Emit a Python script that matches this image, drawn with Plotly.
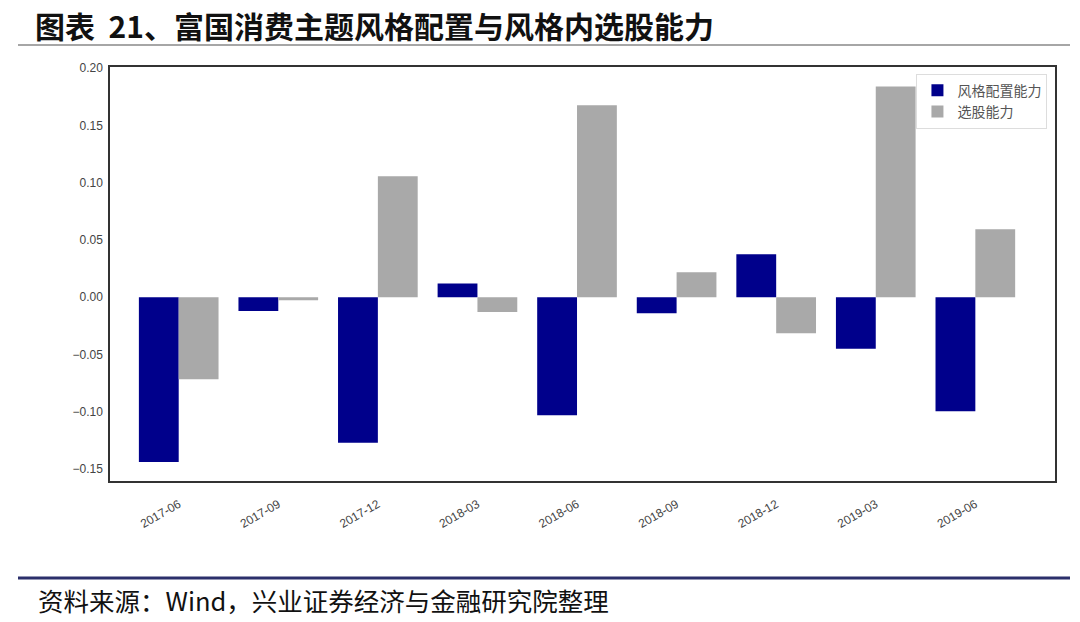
import plotly.graph_objects as go

categories = ["2017-06", "2017-09", "2017-12", "2018-03", "2018-06",
              "2018-09", "2018-12", "2019-03", "2019-06"]
style_alloc = [-0.144, -0.012, -0.127, 0.012, -0.103, -0.014, 0.0375, -0.045, -0.0995]
stock_pick = [-0.0716, -0.0026, 0.1056, -0.013, 0.1676, 0.0218, -0.0314, 0.184, 0.0594]
y_ticks = [-0.15, -0.10, -0.05, 0.00, 0.05, 0.10, 0.15, 0.20]
y_tick_labels = ["\u22120.15", "\u22120.10", "\u22120.05", "0.00", "0.05", "0.10", "0.15", "0.20"]

fig = go.Figure()
fig.add_trace(go.Bar(x=categories, y=style_alloc, name="风格配置能力",
                     marker=dict(color="#00008B", line=dict(width=0))))
fig.add_trace(go.Bar(x=categories, y=stock_pick, name="选股能力",
                     marker=dict(color="#A9A9A9", line=dict(width=0))))

fig.update_layout(
    width=1080, height=622,
    margin=dict(l=110, r=25, t=67, b=141),
    paper_bgcolor="white", plot_bgcolor="white",
    barmode="group", bargap=0.2, bargroupgap=0,
    font=dict(family="Liberation Sans, Arial", color="#444"),
    legend=dict(x=0.992, y=0.984, xanchor="right", yanchor="top",
                bgcolor="rgba(255,255,255,0.9)", bordercolor="#dddddd", borderwidth=1,
                font=dict(family="Noto Sans CJK SC", size=14, color="#555"),
                tracegroupgap=0, itemwidth=30),
    showlegend=True,
)
fig.update_xaxes(type="category", range=[-0.69, 8.8], showgrid=False,
                 tickangle=-30, tickfont=dict(size=12, color="#444"),
                 showline=True, linecolor="#333", linewidth=1.5, mirror=True,
                 ticks="outside", ticklen=10, tickcolor="rgba(0,0,0,0)")
fig.update_yaxes(range=[-0.1605, 0.201], showgrid=False, zeroline=False,
                 tickvals=y_ticks, ticktext=y_tick_labels,
                 tickfont=dict(size=12, color="#444"),
                 showline=True, linecolor="#333", linewidth=1.5, mirror=True,
                 ticks="outside", ticklen=3, tickcolor="rgba(0,0,0,0)")

# Title and footer
fig.add_annotation(text="<b>图表  21、富国消费主题风格配置与风格内选股能力</b>",
                   xref="paper", yref="paper", x=(33 - 110) / 945, y=1 + (67 - 25) / 414,
                   xanchor="left", yanchor="middle", showarrow=False,
                   font=dict(family="Noto Sans CJK SC", size=30, color="#111"))
fig.add_annotation(text="资料来源：Wind，兴业证券经济与金融研究院整理",
                   xref="paper", yref="paper", x=(36 - 110) / 945, y=-(599 - 481) / 414,
                   xanchor="left", yanchor="middle", showarrow=False,
                   font=dict(family="Noto Sans CJK SC", size=25.5, color="#111"))
fig.add_shape(type="line", xref="paper", yref="paper",
              x0=(18 - 110) / 945, x1=(1070 - 110) / 945, y0=1 + (67 - 45) / 414, y1=1 + (67 - 45) / 414,
              line=dict(color="#888", width=1.5))
fig.add_shape(type="line", xref="paper", yref="paper",
              x0=(18 - 110) / 945, x1=(1070 - 110) / 945, y0=-(578 - 481) / 414, y1=-(578 - 481) / 414,
              line=dict(color="#2B2F6B", width=3))

fig.write_html("out.html")
